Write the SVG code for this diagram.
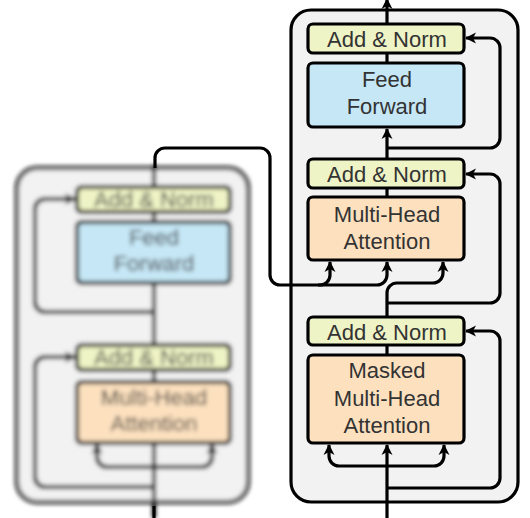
<svg xmlns="http://www.w3.org/2000/svg" width="530" height="518" viewBox="0 0 530 518">
<style>
.box{stroke:#000;stroke-width:3.2}
.an{fill:#eff4c6}
.ff{fill:#c6e7f6}
.mha{fill:#fde1bf}
.outer{fill:#f2f2f2;stroke:#000;stroke-width:3.2}
.t{font-family:"Liberation Sans",Arial,sans-serif;font-size:22px;fill:#333;text-anchor:middle}
.c{fill:none;stroke:#000;stroke-width:3.2}
#encoder .box,#encoder .outer{stroke-width:4}
</style>
<defs>
<marker id="ah" markerWidth="12" markerHeight="12" refX="10" refY="6" orient="auto" markerUnits="userSpaceOnUse">
<path d="M0,0.5 L11,6 L0,11.5 L3,6 Z" fill="#000"/>
</marker>
<filter id="blur" x="-20%" y="-20%" width="140%" height="140%">
<feGaussianBlur stdDeviation="2"/>
</filter>
</defs>
<rect width="530" height="518" fill="#fff"/>

<g id="encoder" filter="url(#blur)">
<rect class="outer" x="17" y="168" width="231" height="334" rx="20"/>
<g fill="none" stroke="#000" stroke-width="4">
<path d="M154,518 V165"/>
<path d="M154,487 H45 A10,10 0 0 1 35,477 V367 A10,10 0 0 1 45,357 H75" marker-end="url(#ah)"/>
<path d="M154,312 H45 A10,10 0 0 1 35,302 V209 A10,10 0 0 1 45,199 H75" marker-end="url(#ah)"/>
<path d="M154,467 H107 A10,10 0 0 1 97,457 V444" marker-end="url(#ah)"/>
<path d="M154,467 H202 A10,10 0 0 0 212,457 V444" marker-end="url(#ah)"/>
</g>
<g id="enc-addnorm2"><rect class="box an" x="77" y="187" width="153" height="25" rx="5"/><text class="t" x="154" y="207" font-size="20">Add &amp; Norm</text></g>
<g id="enc-ff"><rect class="box ff" x="77" y="222" width="153" height="61" rx="5"/><text class="t" x="154" y="245">Feed</text><text class="t" x="154" y="271">Forward</text></g>
<g id="enc-addnorm1"><rect class="box an" x="77" y="345" width="153" height="25" rx="5"/><text class="t" x="154" y="365" font-size="20">Add &amp; Norm</text></g>
<g id="enc-mha"><rect class="box mha" x="77" y="382" width="153" height="61" rx="5"/><text class="t" x="154" y="405">Multi-Head</text><text class="t" x="154" y="431">Attention</text></g>
</g>

<g id="decoder-frame">
<rect class="outer" x="291" y="10" width="227" height="492" rx="20"/>
</g>

<g id="connectors">
<path class="c" d="M154,506 V518"/>
<path class="c" d="M387,518 V445" marker-end="url(#ah)"/>
<path class="c" d="M387,466 H339 A10,10 0 0 1 329,456 V445" marker-end="url(#ah)"/>
<path class="c" d="M387,466 H434 A10,10 0 0 0 444,456 V445" marker-end="url(#ah)"/>
<path class="c" d="M387,488 H490 A10,10 0 0 0 500,478 V341 A10,10 0 0 0 490,331 H466" marker-end="url(#ah)"/>
<path class="c" d="M387,355 V345"/>
<path class="c" d="M387,317 V293 A10,10 0 0 1 397,283 H433 A10,10 0 0 0 443,273 V262" marker-end="url(#ah)"/>
<path class="c" d="M387,303 H490 A10,10 0 0 0 500,293 V184 A10,10 0 0 0 490,174 H466" marker-end="url(#ah)"/>
<path class="c" d="M155,168 V158 A10,10 0 0 1 165,148 H260 A10,10 0 0 1 270,158 V275 A10,10 0 0 0 280,285 H320 A10,10 0 0 0 330,275 V262" marker-end="url(#ah)"/>
<path class="c" d="M318,285 H377 A10,10 0 0 0 387,275 V262" marker-end="url(#ah)"/>
<path class="c" d="M387,197 V188"/>
<path class="c" d="M387,159 V129" marker-end="url(#ah)"/>
<path class="c" d="M387,148 H490 A10,10 0 0 0 500,138 V48 A10,10 0 0 0 490,38 H466" marker-end="url(#ah)"/>
<path class="c" d="M387,63 V53"/>
<path class="c" d="M387,24 V-1" marker-end="url(#ah)"/>
</g>

<g id="addnorm3"><rect class="box an" x="308" y="24" width="156" height="29" rx="5"/><text class="t" x="387" y="47">Add &amp; Norm</text></g>
<g id="feedforward"><rect class="box ff" x="308" y="63" width="156" height="64" rx="5"/><text class="t" x="387" y="87">Feed</text><text class="t" x="387" y="114">Forward</text></g>
<g id="addnorm2"><rect class="box an" x="308" y="159" width="156" height="29" rx="5"/><text class="t" x="387" y="182">Add &amp; Norm</text></g>
<g id="mha"><rect class="box mha" x="308" y="197" width="156" height="63" rx="5"/><text class="t" x="387" y="222">Multi-Head</text><text class="t" x="387" y="249">Attention</text></g>
<g id="addnorm1"><rect class="box an" x="308" y="317" width="156" height="28" rx="5"/><text class="t" x="387" y="340">Add &amp; Norm</text></g>
<g id="masked-mha"><rect class="box mha" x="308" y="355" width="156" height="88" rx="5"/><text class="t" x="387" y="378">Masked</text><text class="t" x="387" y="406">Multi-Head</text><text class="t" x="387" y="433">Attention</text></g>
</svg>
